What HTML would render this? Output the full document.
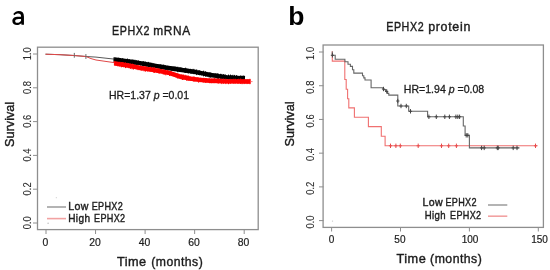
<!DOCTYPE html>
<html><head><meta charset="utf-8"><style>
html,body{margin:0;padding:0;background:#fff;}
body{width:550px;height:270px;overflow:hidden;}
svg{display:block;font-family:"Liberation Sans", sans-serif;will-change:transform;}
</style></head><body>
<svg width="550" height="270" viewBox="0 0 550 270">
<rect width="550" height="270" fill="#fff"/>
<path fill-rule="evenodd" fill="#000" d="M13.3,14.1C14.8,11.9 16.6,11 18.6,11C22.2,11 23.95,12.8 23.95,16.4L23.95,24.8L21.5,24.8L21.25,23.3C20.2,24.5 18.8,25.05 17,25.05C14.2,25.05 12.35,23.4 12.35,21C12.35,18.1 14.6,16.7 18.4,16.7L21.05,16.7L21.05,16.2C21.05,14.5 20.1,13.6 18.2,13.6C16.7,13.6 15.4,14.2 14.3,15.3Z M21.05,18.9L18.6,18.9C16.3,18.9 15.15,19.6 15.15,20.95C15.15,22.15 15.95,22.85 17.3,22.85C18.9,22.85 20.3,21.9 21.05,20.7Z"/>
<text x="112.0" y="35.3" font-size="12.9" font-weight="normal" fill="#1c1c1c" stroke="#1c1c1c" stroke-width="0.4" letter-spacing="0.7" text-anchor="start" textLength="38.0" lengthAdjust="spacingAndGlyphs">EPHX2</text>
<text x="153.2" y="35.3" font-size="12.9" font-weight="normal" fill="#1c1c1c" stroke="#1c1c1c" stroke-width="0.4" letter-spacing="0.7" text-anchor="start" textLength="37.6" lengthAdjust="spacingAndGlyphs">mRNA</text>
<rect x="37.5" y="47.2" width="220.7" height="182.4" fill="none" stroke="#8e8e8e" stroke-width="1.3"/>
<line x1="33" y1="223.0" x2="37.5" y2="223.0" stroke="#8e8e8e" stroke-width="1"/>
<text transform="translate(31.3,222.7) rotate(-90)" x="0" y="0" font-size="10.3" fill="#2a2a2a" stroke="#2a2a2a" stroke-width="0.1" text-anchor="middle" textLength="13.0" lengthAdjust="spacingAndGlyphs">0.0</text>
<line x1="33" y1="189.2" x2="37.5" y2="189.2" stroke="#8e8e8e" stroke-width="1"/>
<text transform="translate(31.3,188.89999999999998) rotate(-90)" x="0" y="0" font-size="10.3" fill="#2a2a2a" stroke="#2a2a2a" stroke-width="0.1" text-anchor="middle" textLength="13.0" lengthAdjust="spacingAndGlyphs">0.2</text>
<line x1="33" y1="155.4" x2="37.5" y2="155.4" stroke="#8e8e8e" stroke-width="1"/>
<text transform="translate(31.3,155.1) rotate(-90)" x="0" y="0" font-size="10.3" fill="#2a2a2a" stroke="#2a2a2a" stroke-width="0.1" text-anchor="middle" textLength="13.0" lengthAdjust="spacingAndGlyphs">0.4</text>
<line x1="33" y1="121.60000000000001" x2="37.5" y2="121.60000000000001" stroke="#8e8e8e" stroke-width="1"/>
<text transform="translate(31.3,121.30000000000001) rotate(-90)" x="0" y="0" font-size="10.3" fill="#2a2a2a" stroke="#2a2a2a" stroke-width="0.1" text-anchor="middle" textLength="13.0" lengthAdjust="spacingAndGlyphs">0.6</text>
<line x1="33" y1="87.80000000000001" x2="37.5" y2="87.80000000000001" stroke="#8e8e8e" stroke-width="1"/>
<text transform="translate(31.3,87.50000000000001) rotate(-90)" x="0" y="0" font-size="10.3" fill="#2a2a2a" stroke="#2a2a2a" stroke-width="0.1" text-anchor="middle" textLength="13.0" lengthAdjust="spacingAndGlyphs">0.8</text>
<line x1="33" y1="54.0" x2="37.5" y2="54.0" stroke="#8e8e8e" stroke-width="1"/>
<text transform="translate(31.3,53.7) rotate(-90)" x="0" y="0" font-size="10.3" fill="#2a2a2a" stroke="#2a2a2a" stroke-width="0.1" text-anchor="middle" textLength="13.0" lengthAdjust="spacingAndGlyphs">1.0</text>
<line x1="46.0" y1="230" x2="46.0" y2="234" stroke="#8e8e8e" stroke-width="1"/>
<text x="45.4" y="246.1" font-size="10.4" font-weight="normal" fill="#1c1c1c" stroke="#1c1c1c" stroke-width="0.2" text-anchor="middle">0</text>
<line x1="95.55" y1="230" x2="95.55" y2="234" stroke="#8e8e8e" stroke-width="1"/>
<text x="94.95" y="246.1" font-size="10.4" font-weight="normal" fill="#1c1c1c" stroke="#1c1c1c" stroke-width="0.2" text-anchor="middle">20</text>
<line x1="145.1" y1="230" x2="145.1" y2="234" stroke="#8e8e8e" stroke-width="1"/>
<text x="144.5" y="246.1" font-size="10.4" font-weight="normal" fill="#1c1c1c" stroke="#1c1c1c" stroke-width="0.2" text-anchor="middle">40</text>
<line x1="194.64999999999998" y1="230" x2="194.64999999999998" y2="234" stroke="#8e8e8e" stroke-width="1"/>
<text x="194.04999999999998" y="246.1" font-size="10.4" font-weight="normal" fill="#1c1c1c" stroke="#1c1c1c" stroke-width="0.2" text-anchor="middle">60</text>
<line x1="244.2" y1="230" x2="244.2" y2="234" stroke="#8e8e8e" stroke-width="1"/>
<text x="243.6" y="246.1" font-size="10.4" font-weight="normal" fill="#1c1c1c" stroke="#1c1c1c" stroke-width="0.2" text-anchor="middle">80</text>
<text transform="translate(13.6,124.4) rotate(-90)" x="0" y="0" font-size="13.6" fill="#1c1c1c" stroke="#1c1c1c" stroke-width="0.4" text-anchor="middle" textLength="45.2" lengthAdjust="spacingAndGlyphs">Survival</text>
<text x="116.9" y="266" font-size="12.8" font-weight="normal" fill="#1c1c1c" stroke="#1c1c1c" stroke-width="0.4" letter-spacing="0.5" text-anchor="start" textLength="29.8" lengthAdjust="spacingAndGlyphs">Time</text>
<text x="151.2" y="266" font-size="12.8" font-weight="normal" fill="#1c1c1c" stroke="#1c1c1c" stroke-width="0.4" letter-spacing="0.5" text-anchor="start" textLength="52.0" lengthAdjust="spacingAndGlyphs">(months)</text>
<text x="109" y="99" font-size="11" fill="#1c1c1c" stroke="#1c1c1c" stroke-width="0.3" textLength="80" lengthAdjust="spacingAndGlyphs">HR=1.37 <tspan font-style="italic">p</tspan> =0.01</text>
<line x1="47" y1="207" x2="66" y2="207" stroke="#a2a2a2" stroke-width="1.6"/>
<line x1="47" y1="218.6" x2="66" y2="218.6" stroke="#f2a2a2" stroke-width="1.6"/>
<text x="68.2" y="210.2" font-size="10.8" font-weight="normal" fill="#1c1c1c" stroke="#1c1c1c" stroke-width="0.4" letter-spacing="0.4" text-anchor="start" textLength="20.6" lengthAdjust="spacingAndGlyphs">Low</text>
<text x="91.7" y="210.2" font-size="10.8" font-weight="normal" fill="#1c1c1c" stroke="#1c1c1c" stroke-width="0.4" letter-spacing="0.4" text-anchor="start" textLength="31.4" lengthAdjust="spacingAndGlyphs">EPHX2</text>
<text x="68.2" y="222.4" font-size="10.8" font-weight="normal" fill="#1c1c1c" stroke="#1c1c1c" stroke-width="0.4" letter-spacing="0.4" text-anchor="start" textLength="22.2" lengthAdjust="spacingAndGlyphs">High</text>
<text x="94.0" y="222.4" font-size="10.8" font-weight="normal" fill="#1c1c1c" stroke="#1c1c1c" stroke-width="0.4" letter-spacing="0.4" text-anchor="start" textLength="31.4" lengthAdjust="spacingAndGlyphs">EPHX2</text>
<polyline points="45.5,54.2 60,54.7 74,55.5 86,56.5 96,57.1 114,59.1" fill="none" stroke="#5a5a5a" stroke-width="1.0" />
<polyline points="45.5,54.2 60,54.7 74,55.5 86,56.5 91,58.6 96,60 114,62.6" fill="none" stroke="#e04848" stroke-width="1.0" />
<line x1="74.3" y1="52.9" x2="74.3" y2="57.699999999999996" stroke="#666" stroke-width="1.0"/>
<line x1="85.9" y1="54.1" x2="85.9" y2="58.9" stroke="#666" stroke-width="1.0"/>
<polyline points="114,59.5 127,61.2 140,63.2 160,66.7 170,68.2 180,69.7 190,71.1 200,72.9 210,74.9 225,77.1 240,78.1 245,78.3" fill="none" stroke="#000" stroke-width="4.4" />
<path d="M114.0,57.3V61.6M115.8,57.8V62.2M117.2,58.0V62.3M118.3,57.7V62.0M119.4,57.9V62.9M120.5,58.2V62.9M122.7,58.2V62.9M124.8,59.0V63.7M126.2,59.0V63.1M127.5,58.6V63.4M129.2,59.0V63.8M130.9,59.8V63.8M132.2,59.4V64.3M133.5,59.7V64.6M134.9,59.7V65.0M136.2,60.1V65.0M138.2,60.3V65.1M140.4,61.3V65.6M142.3,61.6V66.0M143.4,61.2V66.5M145.1,61.3V66.3M146.9,61.9V66.9M148.4,61.9V67.5M150.0,62.4V66.9M151.8,62.7V68.2M153.8,63.4V67.9M155.6,64.0V68.3M156.8,64.1V68.1M158.8,64.5V68.6M160.2,64.0V68.7M161.8,64.5V69.7M163.7,64.5V69.4M165.2,65.2V70.3M167.4,65.8V69.9M168.7,65.9V70.4M170.4,66.1V70.2M171.9,66.2V70.9M174.0,66.2V71.2M175.8,66.5V71.0M177.8,66.7V72.2M179.8,67.4V72.0M180.9,67.3V71.8M182.0,67.9V72.0M183.4,68.2V72.1M184.6,68.3V72.6M185.6,67.7V73.0M186.8,68.5V72.9M188.2,68.8V73.6M190.4,68.8V73.6M191.5,69.4V73.6M192.9,68.9V73.7M193.9,68.9V74.2M195.1,69.6V73.9M196.7,69.4V75.1M198.5,70.5V74.9M199.7,70.2V75.3M201.7,71.0V75.4M203.6,70.7V76.4M205.6,71.3V76.7M206.9,71.9V76.5M207.9,72.6V76.7M209.2,72.2V77.6M210.8,72.2V77.9M212.9,73.1V77.4M214.2,73.4V77.6M215.9,73.0V78.5M217.5,73.4V78.7M218.6,73.6V79.0M220.5,73.8V78.8M221.8,73.9V78.9M223.7,74.0V79.2M225.2,74.3V79.7M226.4,75.2V79.2M228.5,74.6V79.4M230.5,74.6V80.0M231.9,75.1V79.6M232.9,74.8V80.2M234.6,74.9V80.1M236.6,75.1V80.0M237.9,75.8V80.1M239.6,75.9V80.4M240.8,75.3V80.4M242.3,75.7V81.0M243.8,75.4V80.7" stroke="#000" stroke-width="1" fill="none"/>
<polyline points="114.4,63.4 127,65.4 140,67.8 160,71.1 170,73.2 180,76.6 190,78.6 200,79.9 210,80.7 225,81.4 250.6,81.5" fill="none" stroke="#f00" stroke-width="4.4" />
<path d="M114.4,60.9V65.4M115.9,61.5V65.6M117.9,61.8V66.4M119.8,61.7V66.6M121.4,62.0V67.3M122.5,62.1V66.9M123.8,62.1V67.4M125.5,62.4V68.1M127.0,62.8V67.9M128.7,63.0V68.2M130.3,63.5V69.0M132.1,63.5V69.3M133.5,64.0V69.5M135.5,64.8V69.1M137.0,65.2V69.5M138.1,64.8V70.2M140.2,65.7V70.5M141.9,66.0V71.0M144.1,66.3V71.4M145.6,66.2V71.7M147.6,66.9V71.5M149.2,67.0V71.5M150.6,66.8V71.6M152.2,67.4V71.8M153.6,67.4V72.6M154.7,67.2V73.0M156.9,68.5V72.9M157.9,68.0V73.0M159.1,68.5V73.9M161.1,69.1V73.5M163.2,69.2V74.5M164.3,69.9V74.7M165.8,70.2V75.3M167.6,69.9V74.8M169.6,71.0V76.0M171.1,71.2V76.1M173.2,72.0V76.4M174.9,72.6V77.0M176.1,73.2V77.5M177.4,73.4V78.5M178.8,73.7V78.4M180.2,74.6V78.9M181.2,74.1V79.4M182.5,74.6V80.0M183.6,74.5V79.7M185.2,74.8V80.0M186.8,75.3V80.9M188.2,75.4V80.9M190.0,76.2V80.9M191.0,76.6V80.8M192.9,76.7V81.1M194.0,76.3V82.0M195.8,77.1V81.6M197.2,77.1V81.7M198.7,77.5V82.7M200.9,77.4V82.2M203.0,77.8V82.5M204.0,77.8V82.7M205.6,78.1V82.9M206.6,78.2V82.5M208.1,78.5V82.6M209.5,78.4V83.2M211.1,78.0V83.4M213.0,78.0V83.2M214.4,77.9V83.1M216.2,78.3V83.0M218.2,78.2V83.7M220.1,78.4V83.3M221.8,78.7V84.1M223.7,78.5V83.9M225.8,78.7V84.1M227.1,79.4V83.5M228.5,79.3V84.2M230.2,78.8V84.0M232.0,78.9V83.4M233.9,78.7V83.9M235.6,78.8V83.5M237.5,79.2V83.5M238.8,78.7V83.7M240.7,78.5V84.0M242.1,79.0V84.2M244.1,78.9V84.1M245.1,79.3V83.7M247.0,79.2V84.1M248.1,79.4V83.8M249.9,78.8V84.2" stroke="#f00" stroke-width="1" fill="none"/>
<line x1="250" y1="81.6" x2="252.5" y2="81.6" stroke="#f55" stroke-width="0.8"/>
<text x="288.2" y="24.6" font-size="26.5" font-weight="bold" fill="#000" text-anchor="start">b</text>
<text x="386.2" y="31.2" font-size="12.9" font-weight="normal" fill="#1c1c1c" stroke="#1c1c1c" stroke-width="0.4" letter-spacing="0.7" text-anchor="start" textLength="38.0" lengthAdjust="spacingAndGlyphs">EPHX2</text>
<text x="428.2" y="31.2" font-size="12.9" font-weight="normal" fill="#1c1c1c" stroke="#1c1c1c" stroke-width="0.4" letter-spacing="0.7" text-anchor="start" textLength="42.8" lengthAdjust="spacingAndGlyphs">protein</text>
<rect x="323.1" y="45.0" width="220.3" height="182.4" fill="none" stroke="#8e8e8e" stroke-width="1.3"/>
<line x1="319" y1="220.6" x2="323.5" y2="220.6" stroke="#8e8e8e" stroke-width="1"/>
<text transform="translate(313.5,222.0) rotate(-90)" x="0" y="0" font-size="10.3" fill="#2a2a2a" stroke="#2a2a2a" stroke-width="0.1" text-anchor="middle" textLength="13.1" lengthAdjust="spacingAndGlyphs">0.0</text>
<line x1="319" y1="186.88" x2="323.5" y2="186.88" stroke="#8e8e8e" stroke-width="1"/>
<text transform="translate(313.5,188.28) rotate(-90)" x="0" y="0" font-size="10.3" fill="#2a2a2a" stroke="#2a2a2a" stroke-width="0.1" text-anchor="middle" textLength="13.1" lengthAdjust="spacingAndGlyphs">0.2</text>
<line x1="319" y1="153.16" x2="323.5" y2="153.16" stroke="#8e8e8e" stroke-width="1"/>
<text transform="translate(313.5,154.56) rotate(-90)" x="0" y="0" font-size="10.3" fill="#2a2a2a" stroke="#2a2a2a" stroke-width="0.1" text-anchor="middle" textLength="13.1" lengthAdjust="spacingAndGlyphs">0.4</text>
<line x1="319" y1="119.44" x2="323.5" y2="119.44" stroke="#8e8e8e" stroke-width="1"/>
<text transform="translate(313.5,120.84) rotate(-90)" x="0" y="0" font-size="10.3" fill="#2a2a2a" stroke="#2a2a2a" stroke-width="0.1" text-anchor="middle" textLength="13.1" lengthAdjust="spacingAndGlyphs">0.6</text>
<line x1="319" y1="85.72" x2="323.5" y2="85.72" stroke="#8e8e8e" stroke-width="1"/>
<text transform="translate(313.5,87.12) rotate(-90)" x="0" y="0" font-size="10.3" fill="#2a2a2a" stroke="#2a2a2a" stroke-width="0.1" text-anchor="middle" textLength="13.1" lengthAdjust="spacingAndGlyphs">0.8</text>
<line x1="319" y1="52.0" x2="323.5" y2="52.0" stroke="#8e8e8e" stroke-width="1"/>
<text transform="translate(313.5,53.4) rotate(-90)" x="0" y="0" font-size="10.3" fill="#2a2a2a" stroke="#2a2a2a" stroke-width="0.1" text-anchor="middle" textLength="13.1" lengthAdjust="spacingAndGlyphs">1.0</text>
<line x1="331.6" y1="227.4" x2="331.6" y2="231.5" stroke="#8e8e8e" stroke-width="1"/>
<text x="331.6" y="243.1" font-size="10" font-weight="normal" fill="#1c1c1c" stroke="#1c1c1c" stroke-width="0.2" text-anchor="middle">0</text>
<line x1="400.5" y1="227.4" x2="400.5" y2="231.5" stroke="#8e8e8e" stroke-width="1"/>
<text x="399.9" y="243.1" font-size="10" font-weight="normal" fill="#1c1c1c" stroke="#1c1c1c" stroke-width="0.2" text-anchor="middle">50</text>
<line x1="469.40000000000003" y1="227.4" x2="469.40000000000003" y2="231.5" stroke="#8e8e8e" stroke-width="1"/>
<text x="470.00000000000006" y="243.1" font-size="10" font-weight="normal" fill="#1c1c1c" stroke="#1c1c1c" stroke-width="0.2" text-anchor="middle">100</text>
<line x1="538.3000000000001" y1="227.4" x2="538.3000000000001" y2="231.5" stroke="#8e8e8e" stroke-width="1"/>
<text x="539.5000000000001" y="243.1" font-size="10" font-weight="normal" fill="#1c1c1c" stroke="#1c1c1c" stroke-width="0.2" text-anchor="middle">150</text>
<text transform="translate(293.8,124.0) rotate(-90)" x="0" y="0" font-size="13.6" fill="#1c1c1c" stroke="#1c1c1c" stroke-width="0.4" text-anchor="middle" textLength="45.0" lengthAdjust="spacingAndGlyphs">Survival</text>
<text x="396.5" y="262.9" font-size="12.8" font-weight="normal" fill="#1c1c1c" stroke="#1c1c1c" stroke-width="0.4" letter-spacing="0.5" text-anchor="start" textLength="29.8" lengthAdjust="spacingAndGlyphs">Time</text>
<text x="430.1" y="262.9" font-size="12.8" font-weight="normal" fill="#1c1c1c" stroke="#1c1c1c" stroke-width="0.4" letter-spacing="0.5" text-anchor="start" textLength="52.2" lengthAdjust="spacingAndGlyphs">(months)</text>
<text x="403.8" y="93.2" font-size="11" fill="#1c1c1c" stroke="#1c1c1c" stroke-width="0.3" textLength="80.4" lengthAdjust="spacingAndGlyphs">HR=1.94 <tspan font-style="italic">p</tspan> =0.08</text>
<text x="422.5" y="205.6" font-size="10.8" font-weight="normal" fill="#1c1c1c" stroke="#1c1c1c" stroke-width="0.4" letter-spacing="0.4" text-anchor="start" textLength="20.6" lengthAdjust="spacingAndGlyphs">Low</text>
<text x="445.4" y="205.6" font-size="10.8" font-weight="normal" fill="#1c1c1c" stroke="#1c1c1c" stroke-width="0.4" letter-spacing="0.4" text-anchor="start" textLength="31.4" lengthAdjust="spacingAndGlyphs">EPHX2</text>
<text x="424.8" y="219.4" font-size="10.8" font-weight="normal" fill="#1c1c1c" stroke="#1c1c1c" stroke-width="0.4" letter-spacing="0.4" text-anchor="start" textLength="21.1" lengthAdjust="spacingAndGlyphs">High</text>
<text x="450.0" y="219.4" font-size="10.8" font-weight="normal" fill="#1c1c1c" stroke="#1c1c1c" stroke-width="0.4" letter-spacing="0.4" text-anchor="start" textLength="31.4" lengthAdjust="spacingAndGlyphs">EPHX2</text>
<line x1="488" y1="205" x2="507.3" y2="205" stroke="#a2a2a2" stroke-width="1.6"/>
<line x1="488" y1="216.2" x2="507.3" y2="216.2" stroke="#f2a2a2" stroke-width="1.6"/>
<path d="M332.3,51.3V61.1H344.8V79.5H346.2V89.2H347.6V98.7H348.8V107.9H354.4V117.3H368.4V126.6H381.3V136.2H385.1V145.8H537.6" fill="none" stroke="#f07070" stroke-width="1.1"/>
<path d="M332.3,51.5V55.3H335.2V59.2H344.9V61.8H348V64.3H350.4V66.4H352.5V69.8H353.8V73.1H362.5V75.8H363.8V77.9H365V80H371.1V87.7H383.2V89.6H385.6V91.4H387.5V93.4H388.8V95.1H397.8V106H408.7V111.3H427.6V116.8H463.3V126H465.1V135.3H469.4V147.9H519.5" fill="none" stroke="#666" stroke-width="1.1"/>
<path d="M390.5,143.60000000000002V148.0M388.9,145.8H392.1M395.9,143.60000000000002V148.0M394.29999999999995,145.8H397.5M400.3,143.60000000000002V148.0M398.7,145.8H401.90000000000003M418.2,143.60000000000002V148.0M416.59999999999997,145.8H419.8M441.5,143.60000000000002V148.0M439.9,145.8H443.1M448.7,143.60000000000002V148.0M447.09999999999997,145.8H450.3M456.4,143.60000000000002V148.0M454.79999999999995,145.8H458.0M535.5,143.60000000000002V148.0M533.9,145.8H537.1" fill="none" stroke="#e84a4a" stroke-width="1.0"/>
<path d="M332.4,53.099999999999994V57.5M330.79999999999995,55.3H334.0M383.5,86.8V91.2M381.9,89H385.1M386.7,89.2V93.60000000000001M385.09999999999997,91.4H388.3M397.8,98.8V103.2M396.2,101H399.40000000000003M401,103.8V108.2M399.4,106H402.6M406.3,103.8V108.2M404.7,106H407.90000000000003M410.5,109.1V113.5M408.9,111.3H412.1M428.9,114.6V119.0M427.29999999999995,116.8H430.5M436.3,114.6V119.0M434.7,116.8H437.90000000000003M444.8,114.6V119.0M443.2,116.8H446.40000000000003M449.4,114.6V119.0M447.79999999999995,116.8H451.0M455.9,114.6V119.0M454.29999999999995,116.8H457.5M457.8,114.6V119.0M456.2,116.8H459.40000000000003M459.6,114.6V119.0M458.0,116.8H461.20000000000005M466.2,133.10000000000002V137.5M464.59999999999997,135.3H467.8M467.8,133.10000000000002V137.5M466.2,135.3H469.40000000000003M481.6,145.70000000000002V150.1M480.0,147.9H483.20000000000005M484.2,145.70000000000002V150.1M482.59999999999997,147.9H485.8M497.3,145.70000000000002V150.1M495.7,147.9H498.90000000000003M498.2,145.70000000000002V150.1M496.59999999999997,147.9H499.8M513.2,145.70000000000002V150.1M511.6,147.9H514.8000000000001M517,145.70000000000002V150.1M515.4,147.9H518.6" fill="none" stroke="#444" stroke-width="1.0"/>
<circle cx="332.5" cy="221.1" r="0.7" fill="#c4c4c4"/>
<circle cx="48.1" cy="223.3" r="0.7" fill="#b8b8b8"/>
<circle cx="56.3" cy="197.7" r="0.6" fill="#d0d0d0"/>
</svg>
</body></html>
